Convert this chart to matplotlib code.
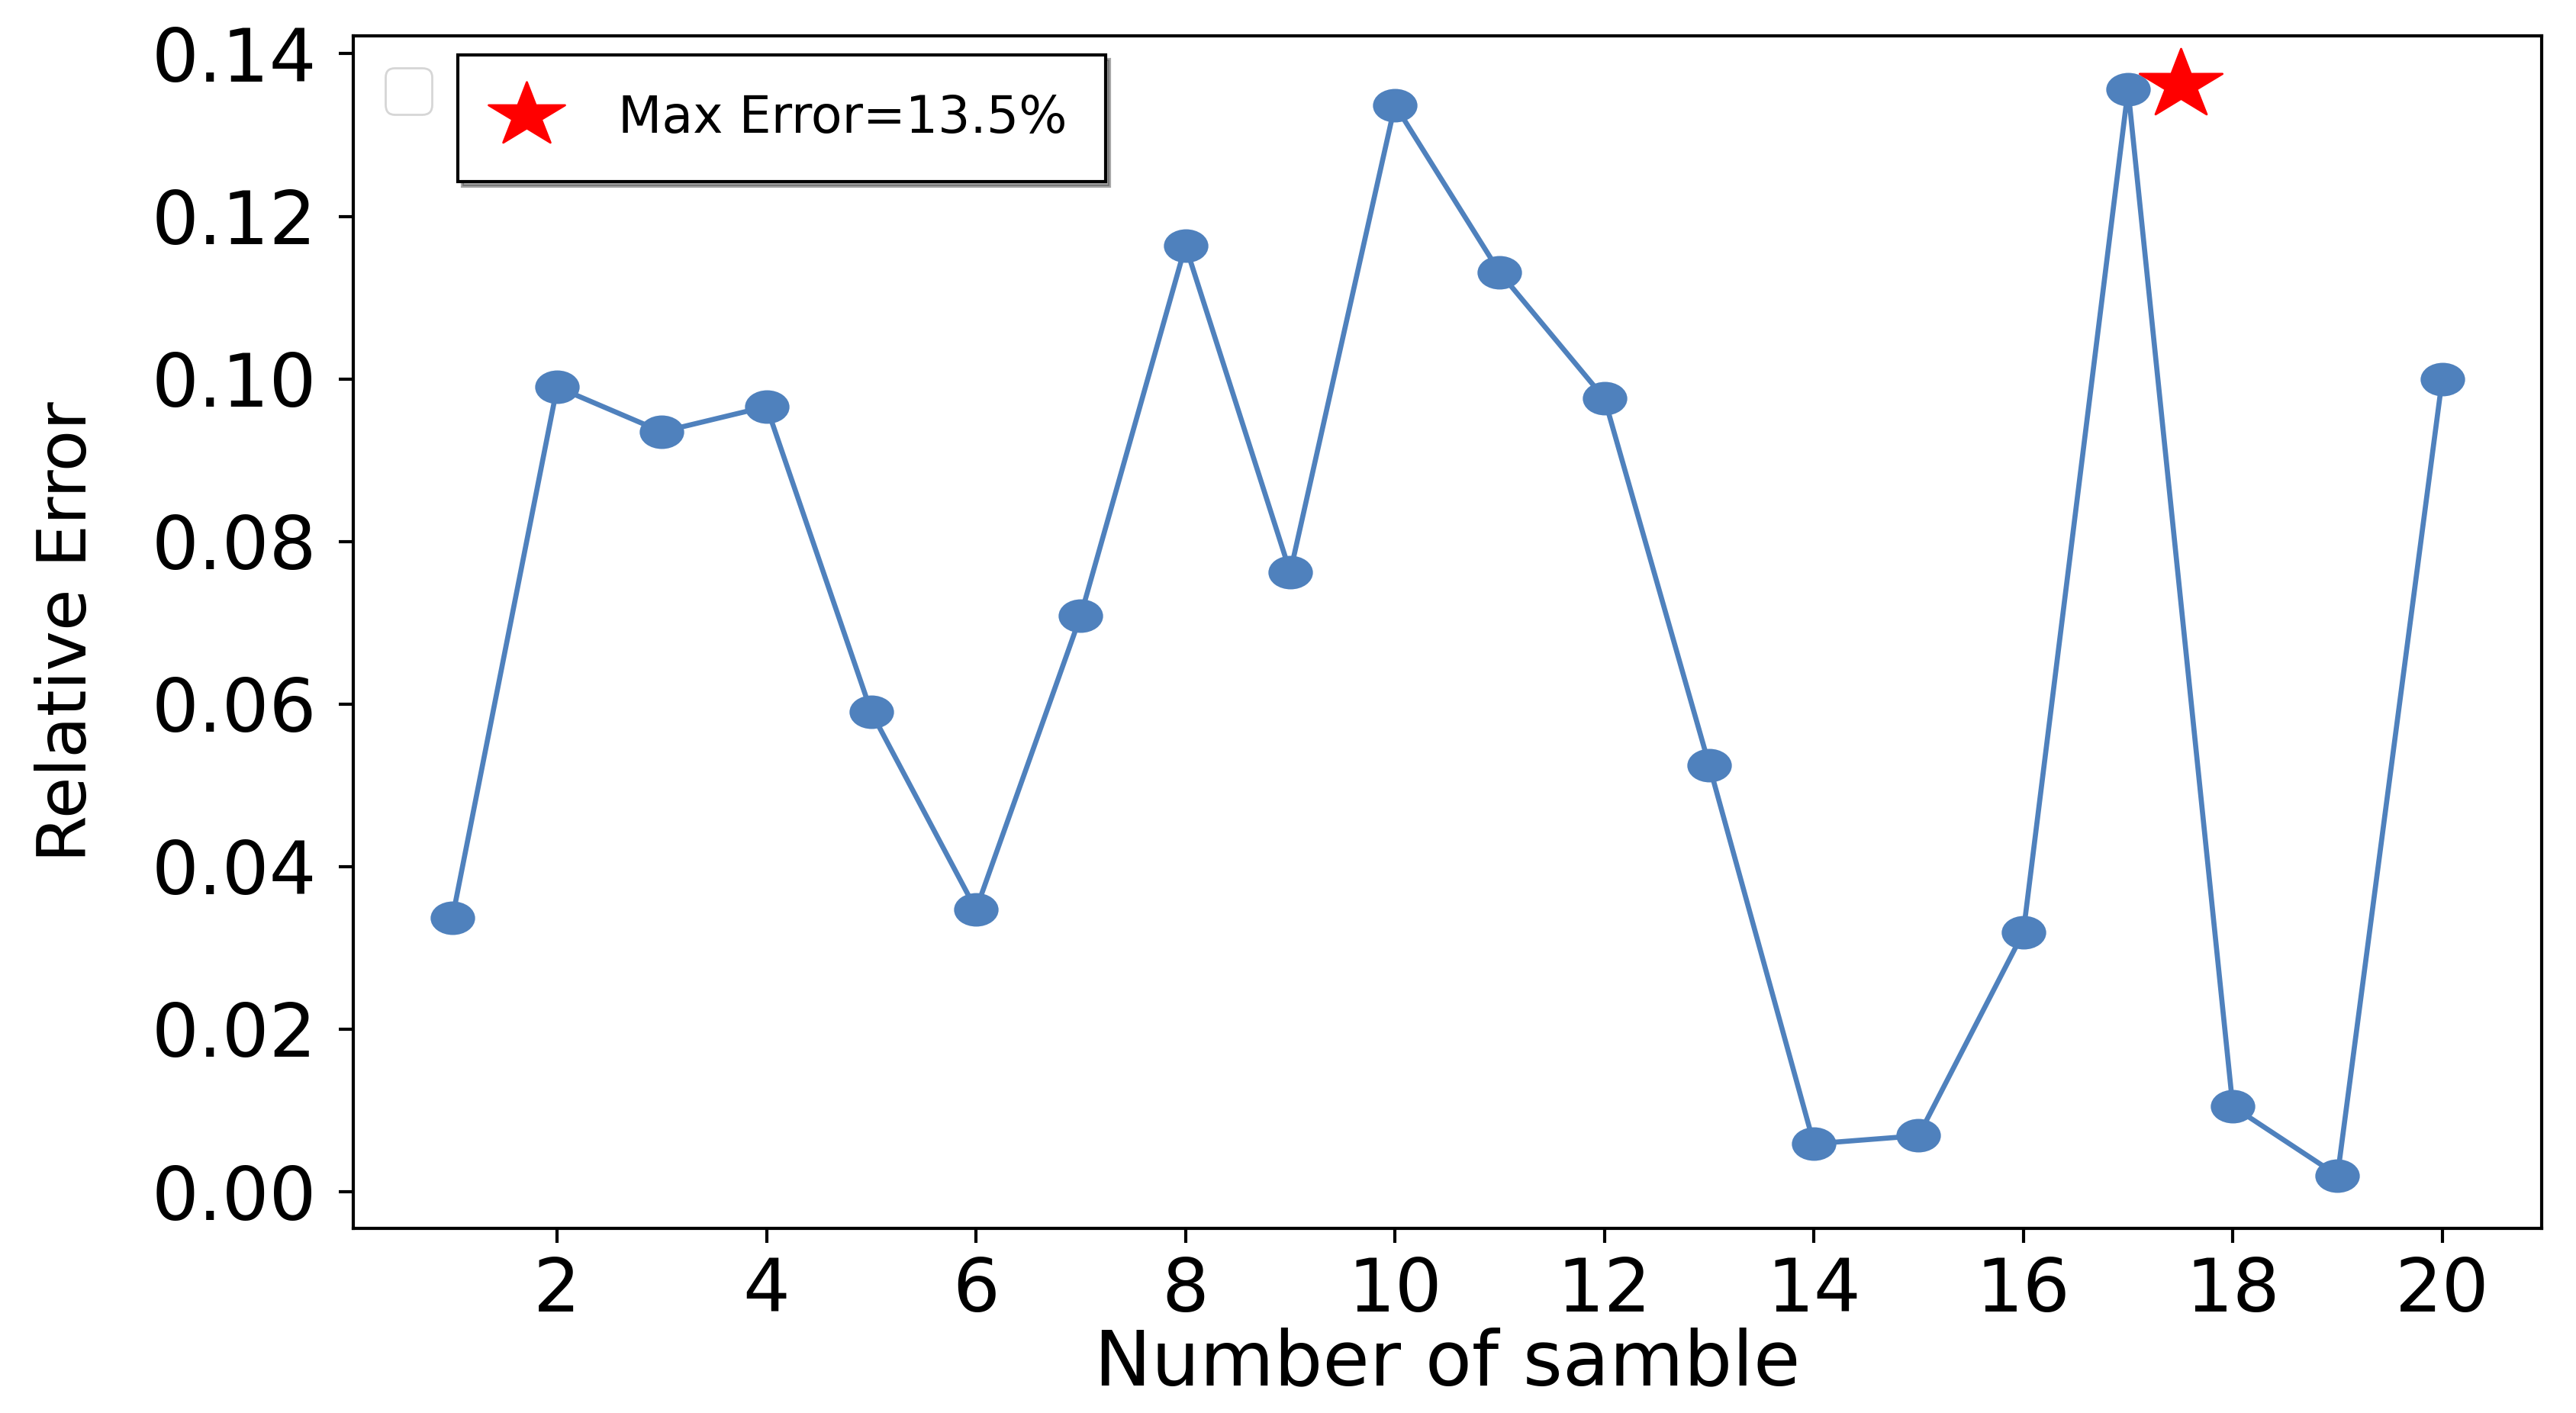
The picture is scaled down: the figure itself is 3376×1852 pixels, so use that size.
#!/usr/bin/env python3
"""Relative error per sample, with the max error marked by a star."""
import matplotlib
matplotlib.use("Agg")
import matplotlib.pyplot as plt
from matplotlib.path import Path
from matplotlib.transforms import Affine2D
from matplotlib.lines import Line2D
import numpy as np

samples = list(range(1, 21))
rel_error = [0.0337, 0.0990, 0.0935, 0.0966, 0.0590, 0.0347, 0.0709, 0.1164, 0.0762, 0.1337,
             0.1131, 0.0976, 0.0525, 0.0059, 0.0069, 0.0319, 0.1356, 0.0105, 0.0020, 0.1000]
max_x = [17.5]
max_y = [0.1362]
max_label = "Max Error=13.5%"

BLUE = "#4f81bd"

# the source picture is stretched sideways, so use squashed marker shapes
ellipse = Path.unit_circle().transformed(Affine2D().scale(1.35, 1.0))
star = Path.unit_regular_star(5, 0.38).transformed(Affine2D().scale(1.2, 1.0))


def main():
    fig = plt.figure(figsize=(16.88, 9.26), dpi=200)
    ax = fig.add_axes([0.137, 0.1307, 0.8497, 0.8439])

    ax.plot(samples, rel_error, color=BLUE, lw=2.4, marker=ellipse, ms=20,
            markerfacecolor=BLUE, markeredgecolor=BLUE)
    ax.plot(max_x, max_y, ls="none", marker=star, ms=39, color="red")

    ax.set_ylim(-0.0045, 0.1422)
    ax.set_xticks(range(2, 21, 2))
    ax.set_yticks(np.arange(0, 0.141, 0.02))
    ax.yaxis.set_major_formatter(plt.FormatStrFormatter("%.2f"))
    ax.tick_params(axis="both", labelsize=35, length=7, width=1.5)
    ax.tick_params(axis="y", pad=10)
    ax.tick_params(axis="x", pad=6)
    for s in ax.spines.values():
        s.set_linewidth(1.5)

    ax.set_xlabel("Number of samble", fontsize=36, labelpad=0)
    ax.set_ylabel("Relative Error", fontsize=32, labelpad=24)

    # empty legend box left over in the corner
    empty = ax.legend(handles=[], loc="upper left", frameon=True, prop={"size": 22},
                      borderpad=0.5, bbox_to_anchor=(0.004, 0.993))
    ax.add_artist(empty)

    handle = Line2D([], [], ls="none", marker=star, ms=36, color="red")
    leg = ax.legend([handle], [max_label], loc="upper left",
                    bbox_to_anchor=(0.048, 0.984), fancybox=False, shadow=True,
                    edgecolor="black", framealpha=1, prop={"size": 24},
                    borderpad=0.75, handletextpad=1.2, handlelength=1.2,
                    borderaxespad=0)
    leg.get_frame().set_linewidth(1.5)

    fig.savefig("out.png", dpi=200)


if __name__ == "__main__":
    main()
